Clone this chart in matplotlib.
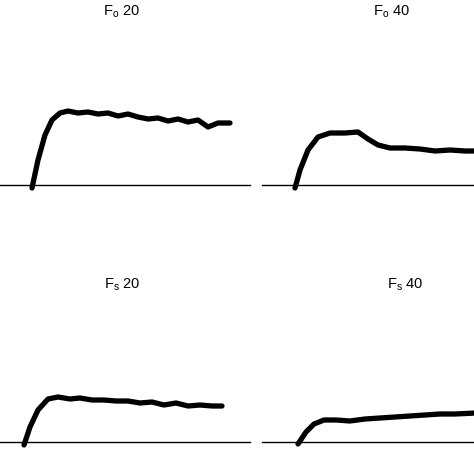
import matplotlib.pyplot as plt

plt.rcParams['font.family'] = ['Liberation Sans', 'DejaVu Sans']
plt.rcParams['mathtext.fontset'] = 'custom'
plt.rcParams['mathtext.rm'] = 'Liberation Sans'

# panel titles
titles = [r'F$_\mathrm{o}$ 20', r'F$_\mathrm{o}$ 40', r'F$_\mathrm{s}$ 20', r'F$_\mathrm{s}$ 40']

# response traces: time (px) and amplitude above baseline (px)
t_o20 = [32, 38, 45, 52, 60, 68, 78, 88, 98, 108, 118, 128, 138, 148, 158, 168, 178, 188, 198, 208, 218, 230]
a_o20 = [-3, 25, 50, 65, 72, 74, 72, 73, 71, 72, 69, 71, 68, 66, 67, 64, 66, 63, 65, 58, 62, 62]
t_o40 = [295, 300, 308, 318, 330, 345, 358, 368, 378, 390, 405, 420, 435, 450, 465, 476]
a_o40 = [-3, 15, 35, 48, 52, 52, 53, 46, 40, 37, 37, 36, 34, 35, 34, 34]
t_s20 = [24, 30, 38, 48, 58, 70, 80, 92, 104, 116, 128, 140, 152, 164, 176, 188, 200, 212, 222]
a_s20 = [-3, 15, 32, 43, 45, 43, 44, 42, 42, 41, 41, 39, 40, 37, 39, 36, 37, 36, 36]
t_s40 = [298, 306, 314, 324, 336, 350, 365, 380, 395, 410, 425, 440, 455, 476]
a_s40 = [-2, 10, 18, 22, 22, 21, 23, 24, 25, 26, 27, 28, 28, 29]

traces = [(t_o20, a_o20), (t_o40, a_o40), (t_s20, a_s20), (t_s40, a_s40)]
baselines = [185, 185, 442, 442]
spans = [(0, 250), (262, 480), (0, 250), (262, 480)]
title_pos = [(122, 12), (392, 12), (122, 285), (405, 285)]

fig = plt.figure(figsize=(4.74, 4.74), dpi=100)
ax = fig.add_axes([0, 0, 1, 1])
ax.set_xlim(0, 474)
ax.set_ylim(474, 0)
ax.axis('off')

for (t, a), b, (x0, x1), (tx, ty), title in zip(traces, baselines, spans, title_pos, titles):
    ax.plot([x0, x1], [b, b], color='black', lw=1)
    ax.plot(t, [b - v for v in a], color='black', lw=3.8, solid_capstyle='round', solid_joinstyle='round')
    ax.text(tx, ty, title, ha='center', va='center', fontsize=10.5)

fig.savefig('out.png', dpi=100)
